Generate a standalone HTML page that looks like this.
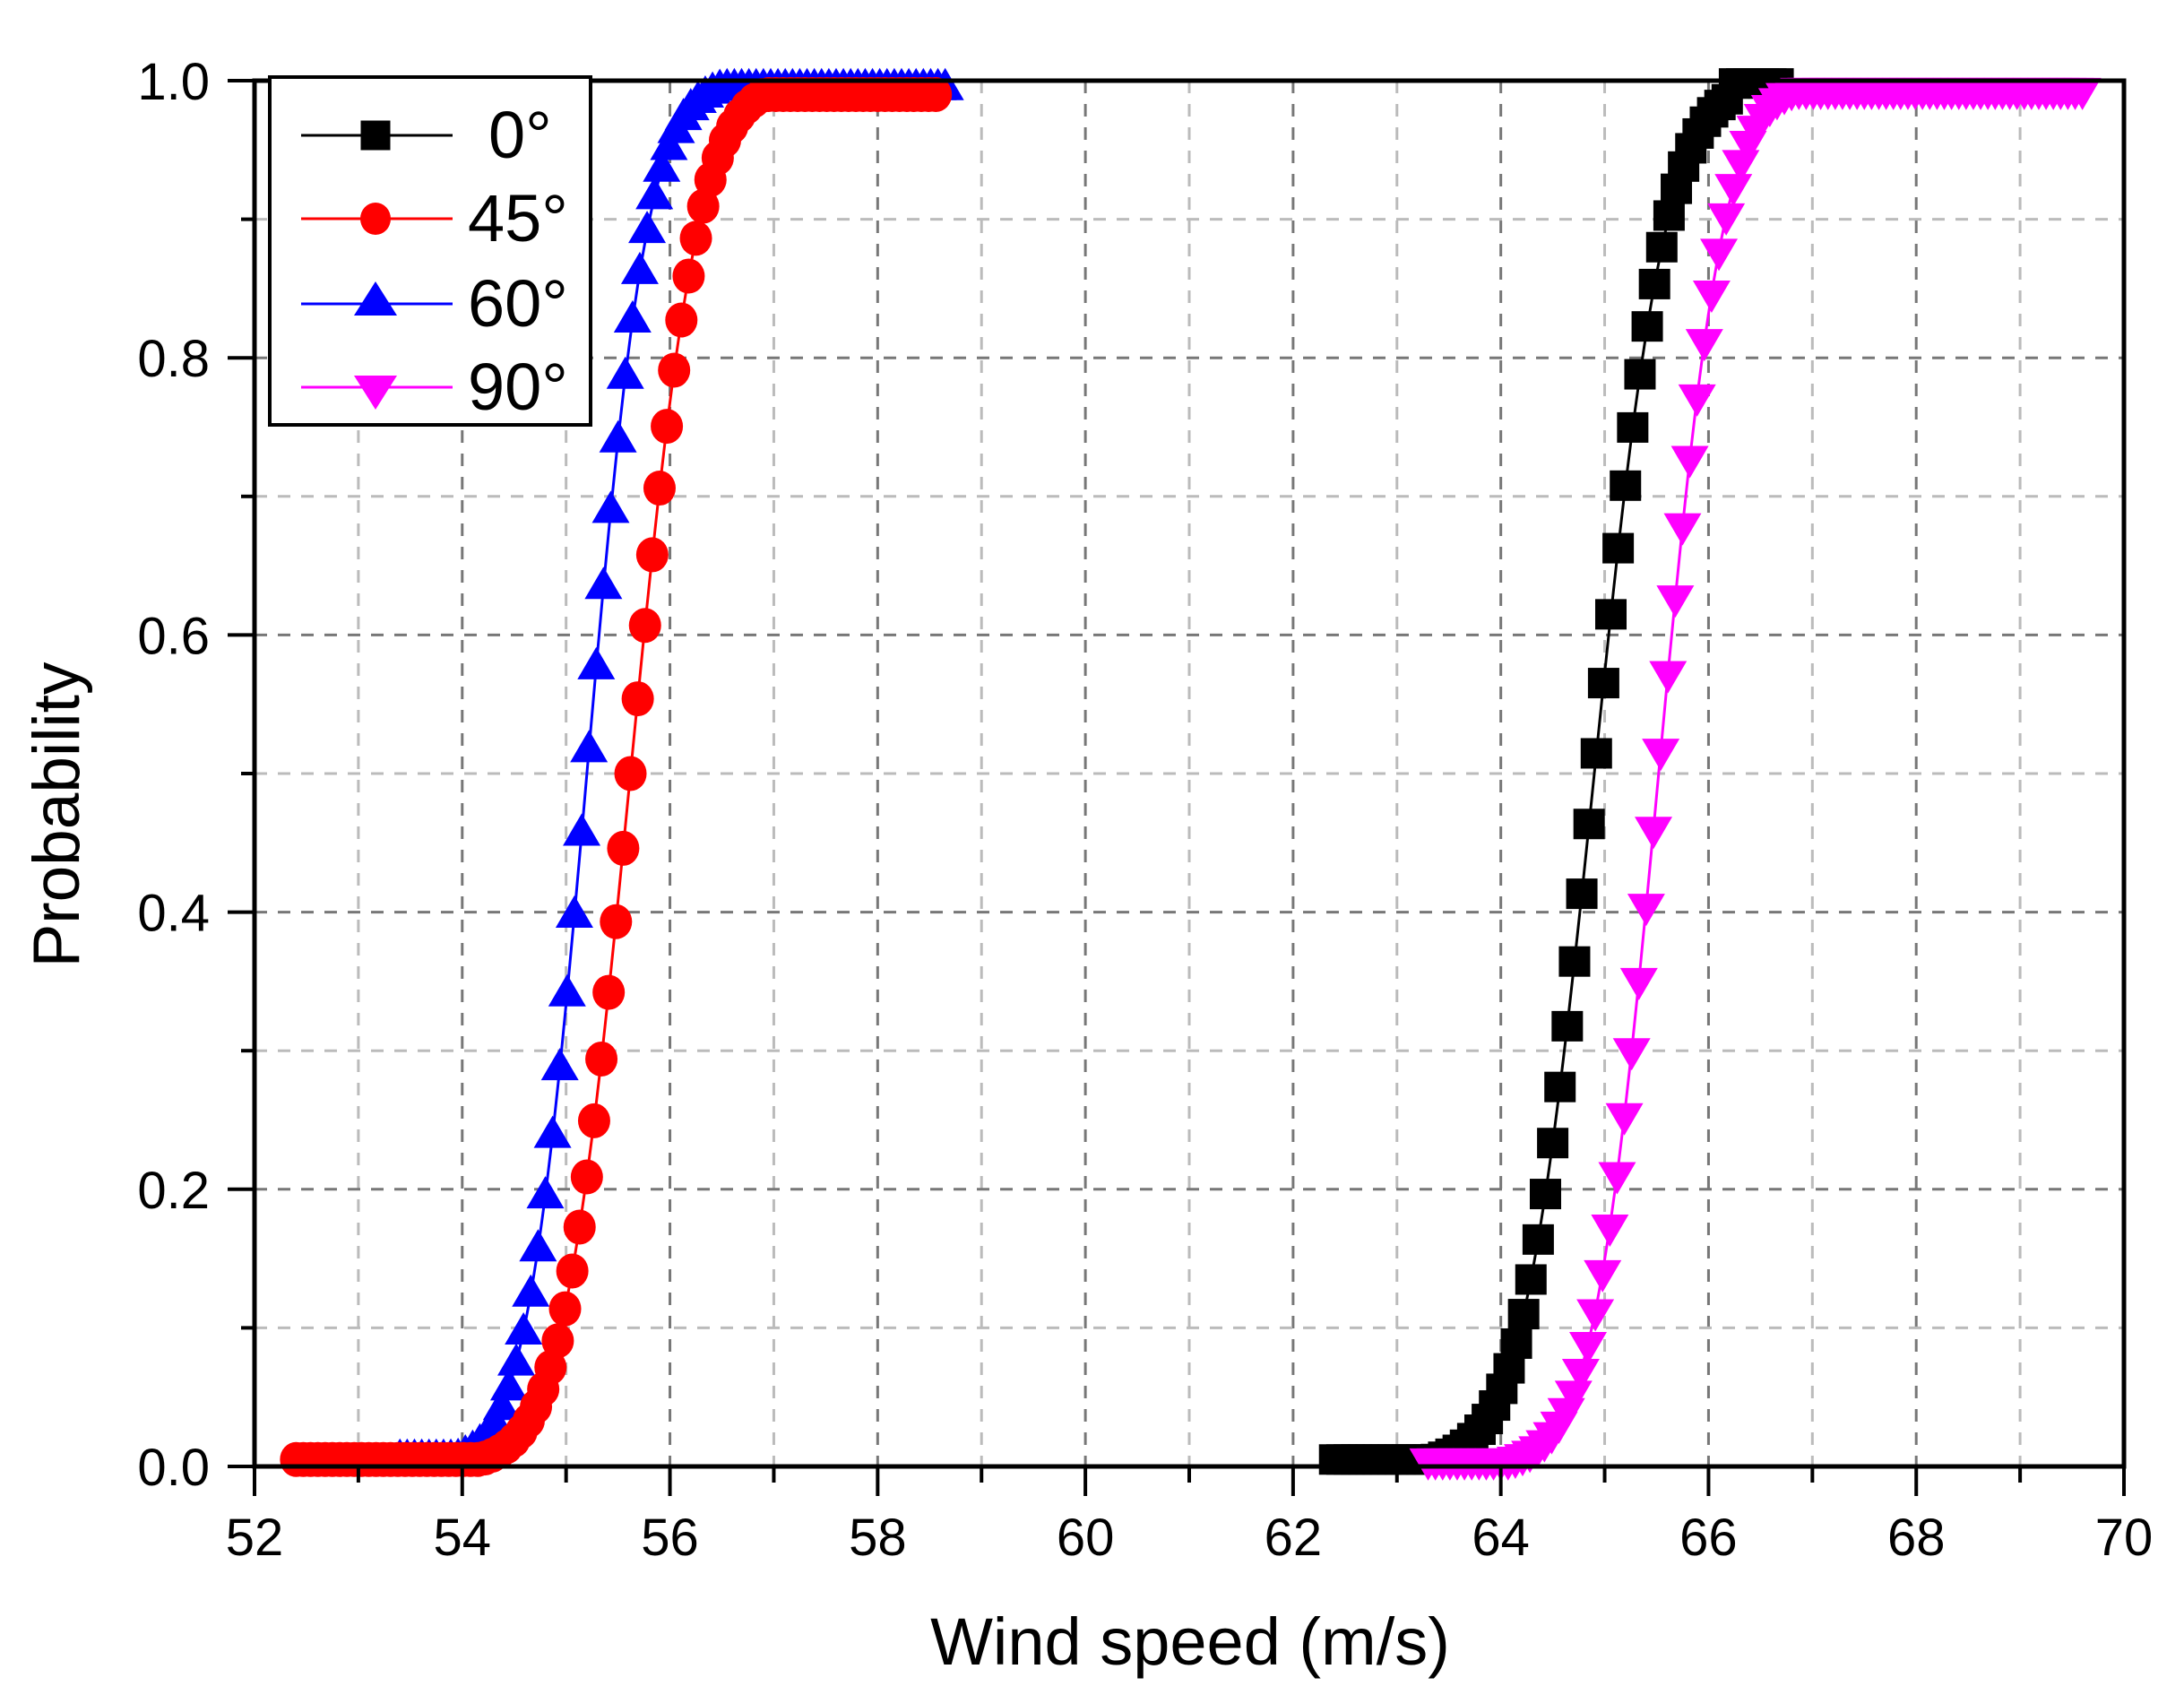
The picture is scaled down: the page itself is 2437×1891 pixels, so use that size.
<!DOCTYPE html>
<html><head><meta charset="utf-8"><style>
html,body{margin:0;padding:0;background:#fff;}
svg{display:block;font-family:"Liberation Sans",Arial,sans-serif;}
</style></head><body>
<svg id="s" width="2437" height="1891" viewBox="0 0 2437 1891" xmlns="http://www.w3.org/2000/svg">
<rect width="2437" height="1891" fill="#fff"/>
<g id="grid"></g>
<g id="data"></g>
<g id="axes"></g>
<text x="1328" y="1857" font-size="74" text-anchor="middle">Wind speed (m/s)</text>
<text transform="translate(88,909) rotate(-90)" font-size="73" text-anchor="middle">Probability</text>
<g id="legend">
<rect x="301" y="86" width="358" height="388" fill="#fff" stroke="#000" stroke-width="4"/>
<line x1="336" y1="151" x2="505" y2="151" stroke="#000" stroke-width="3"/>
<rect x="402.5" y="134.5" width="33" height="33" fill="#000"/>
<text x="545" y="176" font-size="74">0°</text>
<line x1="336" y1="244" x2="505" y2="244" stroke="#f00" stroke-width="3"/>
<ellipse cx="419" cy="244" rx="17" ry="18" fill="#f00"/>
<text x="522" y="269" font-size="74">45°</text>
<line x1="336" y1="339" x2="505" y2="339" stroke="#00f" stroke-width="3"/>
<polygon points="419,314 443,352 395,352" fill="#00f"/>
<text x="522" y="364" font-size="74">60°</text>
<line x1="336" y1="432" x2="505" y2="432" stroke="#f0f" stroke-width="3"/>
<polygon points="395,419 443,419 419,457" fill="#f0f"/>
<text x="522" y="457" font-size="74">90°</text>
</g>
</svg>
<script>
var NS="http://www.w3.org/2000/svg";
var L=284,R=2370,T=90,B=1636;
function X(v){return L+(v-52)*(R-L)/18;}
function Y(p){return B-p*(B-T);}
function el(par,tag,at){var e=document.createElementNS(NS,tag);for(var k in at)e.setAttribute(k,at[k]);document.getElementById(par).appendChild(e);return e;}
for(var v=53;v<70;v++){el('grid','line',{x1:X(v),y1:T,x2:X(v),y2:B,stroke:(v%2==0?'#777':'#bbb'),'stroke-width':3,'stroke-dasharray':'14 12'});}
for(var i=1;i<10;i++){el('grid','line',{x1:L,y1:Y(i/10),x2:R,y2:Y(i/10),stroke:(i%2==0?'#777':'#bbb'),'stroke-width':3,'stroke-dasharray':'14 12'});}
function erf(x){var s=x<0?-1:1;x=Math.abs(x);var t=1/(1+0.3275911*x);var y=1-(((((1.061405429*t-1.453152027)*t)+1.421413741)*t-0.284496736)*t+0.254829592)*t*Math.exp(-x*x);return s*y;}
function Phi(z){return 0.5*(1+erf(z/Math.SQRT2));}
var series=[
 {mu:55.2,sd:0.44,a:53.4,b:58.7,c:'#00f',m:'tri',lo:0.006,hi:0.995},
 {mu:55.62,sd:0.49,a:52.4,b:58.6,c:'#f00',m:'cir',lo:0.005,hi:0.99},
 {mu:64.9,sd:0.52,a:62.4,b:66.7,c:'#000',m:'sq',lo:0.005,hi:0.998},
 {mu:65.52,sd:0.47,a:63.3,b:69.6,c:'#f0f',m:'inv',lo:0.004,hi:0.993}
];
series.forEach(function(s){
 var pts=[];
 for(var x=s.a;x<=s.b+1e-9;x+=0.07){var z=(x-s.mu)/s.sd;var p=0.85*Phi(z)+0.15*Phi(z/1.5);p=Math.max(s.lo,Math.min(s.hi,p));if(x>s.b-0.5&&p>s.hi-0.01)p=s.hi;pts.push([X(x),Y(p)]);}
 el('data','polyline',{points:pts.map(function(q){return q[0].toFixed(1)+','+q[1].toFixed(1)}).join(' '),fill:'none',stroke:s.c,'stroke-width':3});
 pts.forEach(function(q){
  var x=q[0],y=q[1];
  if(s.m=='sq')el('data','rect',{x:x-17.5,y:y-17,width:35,height:34,fill:s.c});
  else if(s.m=='cir')el('data','ellipse',{cx:x,cy:y,rx:18,ry:19.5,fill:s.c});
  else if(s.m=='tri')el('data','polygon',{points:(x)+','+(y-22)+' '+(x+21)+','+(y+14)+' '+(x-21)+','+(y+14),fill:s.c});
  else el('data','polygon',{points:(x-21)+','+(y-14)+' '+(x+21)+','+(y-14)+' '+(x)+','+(y+22),fill:s.c});
 });
});
el('axes','rect',{x:L,y:T,width:R-L,height:B-T,fill:'none',stroke:'#000','stroke-width':5});
for(var v=52;v<=70;v++){var maj=v%2==0;el('axes','line',{x1:X(v),y1:B,x2:X(v),y2:B+(maj?33:18),stroke:'#000','stroke-width':4});
 if(maj){var t=el('axes','text',{x:X(v),y:1735,'font-size':58,'text-anchor':'middle'});t.textContent=v;}}
for(var i=0;i<=10;i++){var maj=i%2==0;el('axes','line',{x1:L,y1:Y(i/10),x2:L-(maj?30:15),y2:Y(i/10),stroke:'#000','stroke-width':4});
 if(maj){var t=el('axes','text',{x:234,y:Y(i/10)+21,'font-size':58,'text-anchor':'end'});t.textContent=(i/10).toFixed(1);}}
</script>
</body></html>
